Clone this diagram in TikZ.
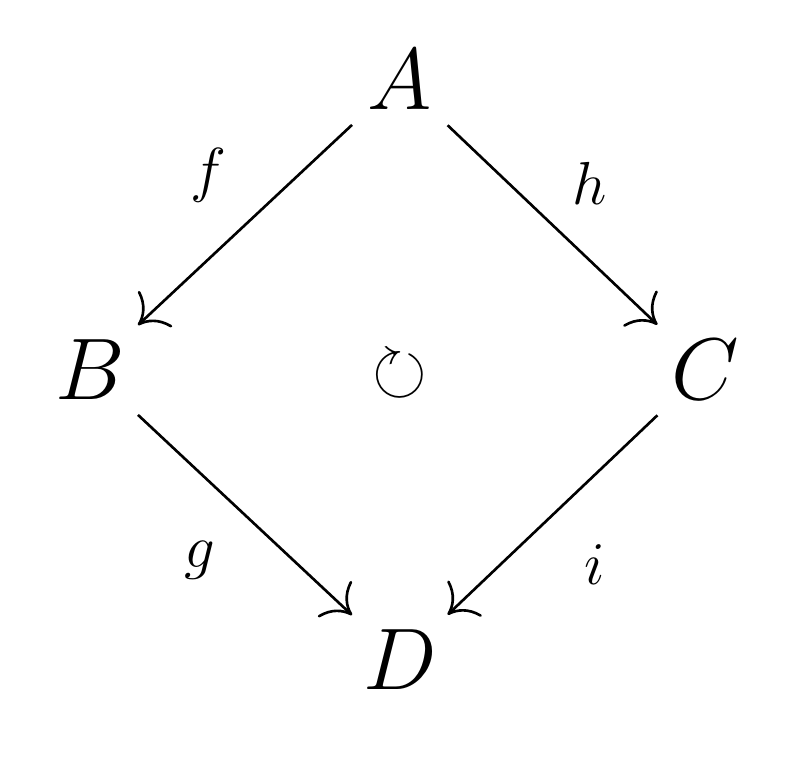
\documentclass[tikz,border=0pt]{standalone}
\usepackage{amssymb}
\usetikzlibrary{arrows.meta}
\begin{document}
\begin{tikzpicture}[x=0.01cm,y=-0.01cm,
  obj/.style={circle,minimum size=1.3cm,inner sep=0pt,font=\fontsize{23}{28}\selectfont},
  lab/.style={font=\fontsize{18}{22}\selectfont},
  arr/.style={line width=0.75pt,-{To[length=7pt,width=14pt,line width=0.75pt]}}]
\useasboundingbox (0,0) rectangle (798,772);
\node[obj] (A) at (400,80) {$A$};
\node[obj] (B) at (90,370) {$B$};
\node[obj] (C) at (705,370) {$C$};
\node[obj] (D) at (400,660) {$D$};
\node[font=\fontsize{20}{24}\selectfont] (O) at (400,375) {$\circlearrowright$};
\draw[arr] (A) -- (B);
\draw[arr] (A) -- (C);
\draw[arr] (B) -- (D);
\draw[arr] (C) -- (D);
\node[lab] (f) at (208,175) {$f$};
\node[lab] (h) at (590,183) {$h$};
\node[lab] (g) at (200,560) {$g$};
\node[lab] (i) at (595,565) {$i$};
\end{tikzpicture}
\end{document}
